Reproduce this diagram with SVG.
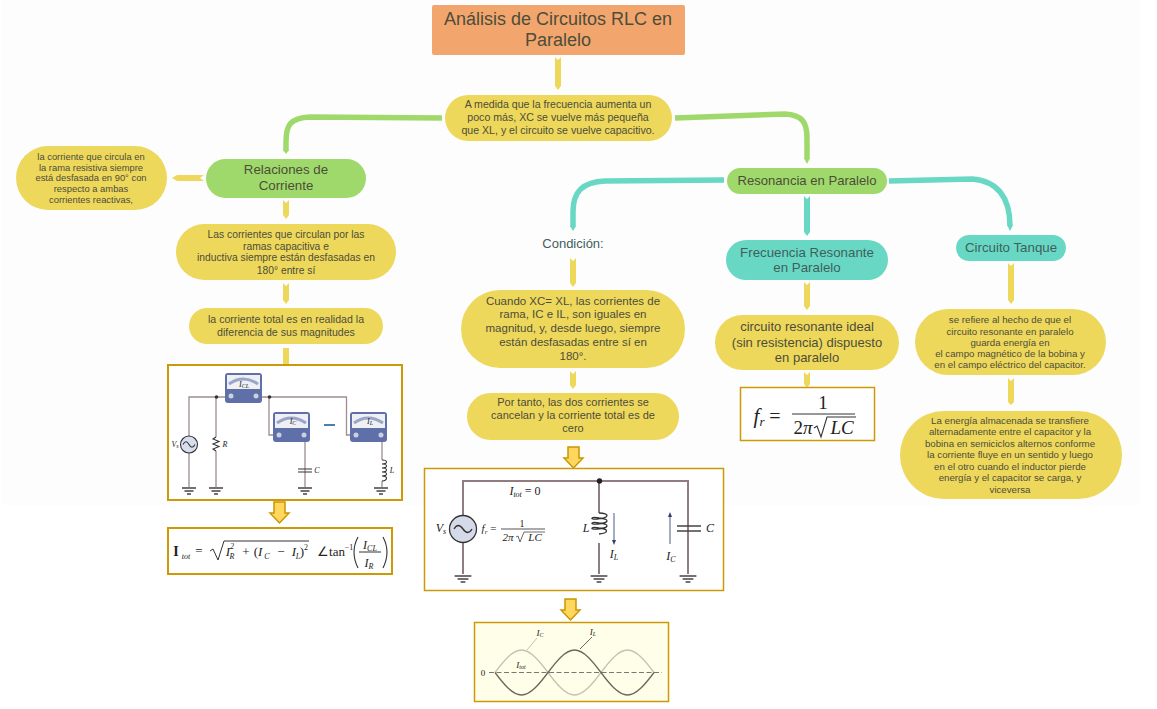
<svg xmlns="http://www.w3.org/2000/svg" width="1157" height="709" viewBox="0 0 1157 709">
<style>
text{font-family:"Liberation Sans",Arial,sans-serif;text-anchor:middle;fill:#4d4d3a}
.y{fill:#EDD85C}.g{fill:#9FD96B}.t{fill:#68D8C4}
.n1{font-size:9.400px}.n2{font-size:9.700px}.m{font-size:10.600px}.m2{font-size:10.300px}.c{font-size:11.500px}.l{font-size:13.300px}
.tl{fill:#3f5f5c}
.img{fill:#fff;stroke:#CC9A06;stroke-width:2}
.w{fill:none;stroke:#A08C92;stroke-width:1.300}
.w2{fill:none;stroke:#8F7D80;stroke-width:2}
.k{fill:none;stroke:#333;stroke-width:1.100}
.i{font-family:"Liberation Serif",serif;font-style:italic;fill:#222}
.r{font-family:"Liberation Serif",serif;fill:#222}
.cg{fill:none;stroke:#9FD96B;stroke-width:5.500}
.ct{fill:none;stroke:#68D8C4;stroke-width:5.500}
.ay{fill:#EDD85C}.at{fill:#68D8C4}.ag{fill:#9FD96B}
.big{fill:#FFD75E;stroke:#C99700;stroke-width:1.500}
.meter{fill:#5F6FA8}
.face{fill:#EEF0F4}
</style>
<defs>
<g id="gnd"><path d="M-7 0H7M-4.500 3H4.500M-2 6H2" fill="none" stroke="#444" stroke-width="1.300"/></g>
<g id="mt"><rect width="37" height="30" rx="3" class="meter"/><path d="M2 2H35V16H2Z" class="face"/><path d="M4 11Q18 1 33 11" fill="none" stroke="#9AA5C8" stroke-width="3"/><circle cx="6" cy="23" r="2.500" fill="#CBD0E0"/><circle cx="31" cy="23" r="2.500" fill="#CBD0E0"/></g>
</defs>
<rect x="2" y="0" width="1138" height="505" fill="#FDFDFD"/>

<g id="connectors">
<polygon class="ay" points="555,57 558,60 561,57 561,86 558,90 555,86"/>
<path class="cg" d="M442 118L310 117C290 118 286 125 286 142V151"/><polygon class="ag" points="283,150 289,150 286,154"/>
<path class="cg" d="M675 118L785 114C802 115 807 122 807 138V159"/><polygon class="ag" points="804,158 810,158 807,164"/>
<polygon class="ay" points="204,175 200,178 204,181 177,181 172,178 177,175"/>
<polygon class="ay" points="283,200 286,203 289,200 289,215 286,219 283,215"/>
<polygon class="ay" points="283,283 286,286 289,283 289,300 286,304 283,300"/>
<polygon class="ay" points="283,348 289,348 289,364 283,364"/>
<path class="ct" d="M724 180L605 181C582 182 573 192 573 212V227"/><polygon class="at" points="570,226 576,226 573,231"/>
<polygon class="at" points="804,196 807,199 810,196 810,232 807,236 804,232"/>
<path class="ct" d="M889 181L972 179C998 181 1010 198 1010 226"/><polygon class="at" points="1007,225 1013,225 1010,231"/>
<polygon class="ay" points="570,258 573,261 576,258 576,283 573,287 570,283"/>
<polygon class="ay" points="570,371 573,374 576,371 576,385 573,389 570,385"/>
<polygon class="ay" points="804,282 807,285 810,282 810,306 807,310 804,306"/>
<polygon class="ay" points="804,372 807,375 810,372 810,384 807,388 804,384"/>
<polygon class="ay" points="1008,263 1011,266 1014,263 1014,300 1011,304 1008,300"/>
<polygon class="ay" points="1008,378 1011,381 1014,378 1014,402 1011,405 1008,402"/>
<polygon class="big" points="274,502 285,502 285,513 289,513 279.500,523 270,513 274,513"/>
<polygon class="big" points="568,447 579,447 579,458 583,458 573.500,468 564,458 568,458"/>
<polygon class="big" points="565,599 576,599 576,610 580,610 570.500,620 561,610 565,610"/>
</g>

<g id="n-title"><rect x="432" y="5" width="253" height="50" rx="2" fill="#F2A66E"/><text x="558" y="25" font-size="18">Análisis de Circuitos RLC en</text><text x="558" y="46" font-size="18">Paralelo</text></g>
<g id="n-centro"><rect x="445" y="95" width="227" height="46" rx="23" class="y"/><text class="m" x="558" y="108">A medida que la frecuencia aumenta un</text><text class="m" x="558" y="121">poco más, XC se vuelve más pequeña</text><text class="m" x="558" y="134">que XL, y el circuito se vuelve capacitivo.</text></g>
<g id="n-relaciones"><rect x="206" y="159" width="160" height="39" rx="19.500" class="g"/><text class="l" x="286" y="174">Relaciones de</text><text class="l" x="286" y="190">Corriente</text></g>
<g id="n-resistiva"><rect x="16" y="146" width="151" height="64" rx="32" class="y"/><text class="n1" x="91" y="160">la corriente que circula en</text><text class="n1" x="91" y="171">la rama resistiva siempre</text><text class="n1" x="91" y="181">está desfasada en 90° con</text><text class="n1" x="91" y="192">respecto a ambas</text><text class="n1" x="91" y="203">corrientes reactivas,</text></g>
<g id="n-capacitiva"><rect x="176" y="224" width="220" height="56" rx="28" class="y"/><text class="m2" x="286" y="238">Las corrientes que circulan por las</text><text class="m2" x="286" y="250">ramas capacitiva e</text><text class="m2" x="286" y="261">inductiva siempre están desfasadas en</text><text class="m2" x="286" y="274">180° entre sí</text></g>
<g id="n-total"><rect x="189" y="308" width="194" height="36" rx="18" class="y"/><text class="m" x="286" y="323">la corriente total es en realidad la</text><text class="m" x="286" y="336">diferencia de sus magnitudes</text></g>

<g id="n-circuito1">
<rect x="168" y="365" width="234" height="135" class="img"/>
<path class="w" d="M189 436V397H346.500V435H352M189 453V487M216 397V437M216 451V487M269 397V435H274M305 438V487M382 438V460M382 481V487"/>
<circle cx="216.500" cy="397" r="1.800" fill="#333"/><circle cx="269.500" cy="397" r="1.800" fill="#333"/>
<circle cx="189" cy="444.500" r="8.500" fill="#D8DEEE" stroke="#333" stroke-width="1.100"/><path d="M183 444.500Q186 439 189 444.500T195 444.500" class="k"/>
<path class="k" d="M216 437L213 439L219 441.500L213 444L219 446.500L213 449L216 451"/>
<use href="#mt" x="225" y="373"/><use href="#mt" x="273" y="412"/><use href="#mt" x="350" y="412"/>
<text class="i" font-size="8" x="244" y="387">I<tspan font-size="6" dy="1">CL</tspan></text>
<text class="i" font-size="8" x="293" y="424">I<tspan font-size="6" dy="1">C</tspan></text>
<text class="i" font-size="8" x="370" y="424">I<tspan font-size="6" dy="1">L</tspan></text>
<rect x="324" y="424" width="11" height="2" fill="#4C7FB0"/>
<path class="k" d="M298 469H312M298 472H312"/>
<path class="k" d="M382 460c6 0 6 4 0 4c6 0 6 4 0 4c6 0 6 4 0 4c6 0 6 4 0 4c6 0 6 4 0 5"/>
<use href="#gnd" x="189" y="488"/><use href="#gnd" x="216" y="488"/><use href="#gnd" x="305" y="488"/><use href="#gnd" x="381" y="488"/>
<text class="i" font-size="8" x="175" y="447">V<tspan font-size="6" dy="1">s</tspan></text>
<text class="i" font-size="8" x="225" y="447">R</text><text class="i" font-size="8" x="317" y="473">C</text><text class="i" font-size="8" x="392" y="473">L</text>
</g>
<g id="n-formula1">
<rect x="168" y="528" width="224" height="46" class="img"/>
<text class="r" font-size="14" x="176" y="556" font-weight="bold">I</text><text class="i" font-size="8" x="186" y="559">tot</text>
<text class="r" font-size="13" x="199" y="555">=</text>
<path d="M210 551L213 549L218 560L224 541H309" fill="none" stroke="#333"/>
<text class="i" font-size="13" x="228" y="556">I</text><text class="i" font-size="8" x="232" y="549">2</text><text class="i" font-size="8" x="232" y="559">R</text>
<text class="r" font-size="13" x="246" y="556">+</text><text class="r" font-size="13" x="258" y="556">(<tspan font-style="italic">I</tspan></text><text class="i" font-size="8" x="267" y="559">C</text>
<text class="r" font-size="13" x="281" y="556">−</text><text class="i" font-size="13" x="294" y="556">I</text><text class="i" font-size="8" x="298" y="559">L</text><text class="r" font-size="13" x="302" y="556">)</text><text class="r" font-size="8" x="306" y="550">2</text>
<text class="r" font-size="13" x="331" y="556">∠tan</text><text class="r" font-size="8" x="349" y="550">−1</text>
<path d="M358 537Q350 552 358 568M383 537Q391 552 383 568" fill="none" stroke="#333" stroke-width="1.100"/>
<text class="i" font-size="12" x="370" y="549">I<tspan font-size="8" dy="2">CL</tspan></text>
<path d="M359 552H381" stroke="#333"/>
<text class="i" font-size="12" x="369" y="567">I<tspan font-size="8" dy="2">R</tspan></text>
</g>

<g id="n-condicion"><text x="573" y="248" font-size="13" class="tl">Condición:</text></g>
<g id="n-cuando"><rect x="461" y="290" width="224" height="78" rx="39" class="y"/><text class="c" x="573" y="305">Cuando XC= XL, las corrientes de</text><text class="c" x="573" y="318">rama, IC e IL, son iguales en</text><text class="c" x="573" y="332">magnitud, y, desde luego, siempre</text><text class="c" x="573" y="346">están desfasadas entre sí en</text><text class="c" x="573" y="360">180°.</text></g>
<g id="n-portanto"><rect x="467" y="393" width="212" height="47" rx="23.500" class="y"/><text class="c" x="573" y="406" style="font-size:11px">Por tanto, las dos corrientes se</text><text style="font-size:11px" x="573" y="419">cancelan y la corriente total es de</text><text style="font-size:11px" x="573" y="432">cero</text></g>
<g id="n-circuito2">
<rect x="424.500" y="468.500" width="299" height="122" fill="#fff" stroke="#CC9A06" stroke-width="1.500"/>
<path class="w2" d="M463 516V481H688V574M463 542V574M599 481V513M599 543V574"/>
<circle cx="599.500" cy="481" r="2.700" fill="#222"/>
<circle cx="463" cy="529" r="13.500" fill="#D5DAE8" stroke="#333" stroke-width="1.300"/><path d="M454 529Q458 522 463 529T472 529" fill="none" stroke="#333" stroke-width="1.300"/>
<path d="M599 513c11 0 11 5 -2 6c-8 1 -6 -3 2 -1c11 1 11 5 -2 6c-8 1 -6 -3 2 -1c11 1 11 5 -2 6c-8 1 -6 -3 2 -1c10 1 10 5 0 6" fill="none" stroke="#333" stroke-width="1.300"/>
<path d="M677 526H701M677 531H701" fill="none" stroke="#444" stroke-width="1.600"/>
<path d="M614 513V540" stroke="#4A5A80"/><polygon points="612,540 616,540 614,545" fill="#2F3F70"/>
<path d="M670 544V517" stroke="#4A5A80"/><polygon points="668,517 672,517 670,512" fill="#2F3F70"/>
<g transform="translate(463 576) scale(1.200 1)"><use href="#gnd"/></g><g transform="translate(599 576) scale(1.200 1)"><use href="#gnd"/></g><g transform="translate(688 576) scale(1.200 1)"><use href="#gnd"/></g>
<text class="i" font-size="12" x="525" y="495">I<tspan font-size="8" dy="2">tot</tspan><tspan font-style="normal" font-size="12" dy="-2"> = 0</tspan></text>
<text class="i" font-size="12" x="441" y="532">V<tspan font-size="8" dy="2">s</tspan></text>
<text class="i" font-size="11" x="489" y="532">f<tspan font-size="7" dy="2">r</tspan><tspan font-style="normal" dy="-2"> =</tspan></text>
<text class="r" font-size="10" x="522" y="527">1</text><path d="M501 529H545" stroke="#555"/>
<text class="i" font-size="11" x="508" y="541">2π</text><path d="M516 537L518 536L520 542L524 532H545" fill="none" stroke="#444" stroke-width=".8"/><text class="i" font-size="11" x="535" y="541">LC</text>
<text class="i" font-size="12" x="586" y="532">L</text><text class="i" font-size="12" x="614" y="558">I<tspan font-size="8" dy="2">L</tspan></text>
<text class="i" font-size="12" x="671" y="560">I<tspan font-size="8" dy="2">C</tspan></text><text class="i" font-size="12" x="710" y="532">C</text>
</g>
<g id="n-onda">
<rect x="474.500" y="622.500" width="194" height="79" fill="#FFFEE9" stroke="#CC9A06" stroke-width="1.500"/>
<path d="M495 672.500C503.600 661 512.400 650 521.500 650C530.600 650 539.400 661 548 672.500C556.600 684 565.400 695 574.500 695C583.600 695 592.400 684 601 672.500C609.600 661 618.400 650 627.500 650C636.600 650 645.400 661 654 672.500" fill="none" stroke="#C8C0B0" stroke-width="1.300"/>
<path d="M495 672.500C503.600 684 512.400 695 521.500 695C530.600 695 539.400 684 548 672.500C556.600 661 565.400 650 574.500 650C583.600 650 592.400 661 601 672.500C609.600 684 618.400 695 627.500 695C636.600 695 645.400 684 654 672.500" fill="none" stroke="#6E665C" stroke-width="1.300"/>
<path d="M489 672.500H662" stroke="#555" stroke-width=".8" stroke-dasharray="5 2.500"/>
<path d="M527 650L537 638" stroke="#C8C0B0"/><path d="M580 649L592 637" stroke="#6E665C"/>
<text class="i" font-size="9" x="540" y="636">I<tspan font-size="6" dy="1">C</tspan></text><text class="i" font-size="9" x="593" y="635">I<tspan font-size="6" dy="1">L</tspan></text>
<text class="i" font-size="9" x="521" y="668">I<tspan font-size="6" dy="1">tot</tspan></text><text class="r" font-size="9" x="483" y="676">0</text>
</g>

<g id="n-resonancia"><rect x="727" y="168" width="160" height="26" rx="13" class="g"/><text x="807" y="185" style="font-size:13.100px">Resonancia en Paralelo</text></g>
<g id="n-frecuencia"><rect x="726" y="240" width="162" height="40" rx="20" class="t"/><text class="tl l" x="807" y="257">Frecuencia Resonante</text><text class="tl l" x="807" y="272">en Paralelo</text></g>
<g id="n-tanque"><rect x="956" y="235" width="110" height="26" rx="13" class="t"/><text class="tl l" x="1011" y="252">Circuito Tanque</text></g>
<g id="n-ideal"><rect x="715" y="315" width="184" height="55" rx="27.500" class="y"/><text x="807" y="331" font-size="13">circuito resonante ideal</text><text x="807" y="347" font-size="13">(sin resistencia) dispuesto</text><text x="807" y="362" font-size="13">en paralelo</text></g>
<g id="n-formula2"><rect x="740.500" y="387.500" width="134" height="53" fill="#fff" stroke="#CC9A06" stroke-width="1.500"/><text class="i" font-size="21" x="759" y="423">f<tspan font-size="13" dy="3">r</tspan></text><text class="r" font-size="20" x="775" y="423">=</text><text class="r" font-size="19" x="823" y="409">1</text><path d="M792 414H855" stroke="#333"/><text class="r" font-size="19" x="803" y="434">2<tspan class="i">π</tspan></text><path d="M814 428L817 426L821 437L827 417H856" fill="none" stroke="#333" stroke-width="1.100"/><text class="i" font-size="19" x="842" y="434">LC</text></g>
<g id="n-refiere"><rect x="915" y="309" width="191" height="66" rx="33" class="y"/><text class="n2" x="1010" y="323">se refiere al hecho de que el</text><text class="n2" x="1010" y="335">circuito resonante en paralelo</text><text class="n2" x="1010" y="346">guarda energía en</text><text class="n2" x="1010" y="357">el campo magnético de la bobina y</text><text class="n2" x="1010" y="368">en el campo eléctrico del capacitor.</text></g>
<g id="n-energia"><rect x="900" y="411" width="222" height="88" rx="44" class="y"/><text class="n2" x="1010" y="424">La energía almacenada se transfiere</text><text class="n2" x="1010" y="435">alternadamente entre el capacitor y la</text><text class="n2" x="1010" y="447">bobina en semiciclos alternos conforme</text><text class="n2" x="1010" y="458">la corriente fluye en un sentido y luego</text><text class="n2" x="1010" y="470">en el otro cuando el inductor pierde</text><text class="n2" x="1010" y="481">energía y el capacitor se carga, y</text><text class="n2" x="1010" y="493">viceversa</text></g>
</svg>
